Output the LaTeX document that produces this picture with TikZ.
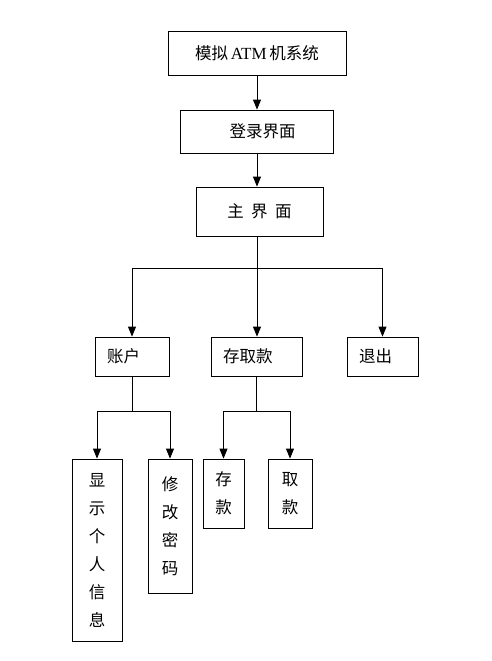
\documentclass[tikz,border=0pt]{standalone}
\usepackage{fontspec}
\setmainfont{Liberation Serif}
\newfontfamily\cjk{Noto Sans CJK SC}
\usetikzlibrary{arrows.meta}
\begin{document}
\begin{tikzpicture}[x=1pt,y=-1pt,
  every node/.style={font=\cjk\fontsize{16.5}{28}\selectfont},
  hbox/.style={draw,line width=0.8pt,inner sep=0pt,align=left},
  vbox/.style={draw,line width=0.8pt,inner sep=0pt,align=center},
  conn/.style={line width=0.8pt},
  arr/.style={line width=0.8pt,-{Triangle[length=10pt,width=8pt]}}]
\useasboundingbox (0,0) rectangle (491,661);
% top level
\node[hbox,minimum width=178,minimum height=44,align=center] (sys) at (257,53)
  {模拟\,{\rmfamily\fontsize{17}{18}\selectfont ATM}\,机系统};
\node[hbox,minimum width=153,minimum height=43,align=center] (login) at (256.5,131.5) {\hspace{12pt}登录界面};
\node[hbox,minimum width=127,minimum height=49,align=center] (main) at (259.5,211.5) {主\hspace{0.45em}界\hspace{0.45em}面};
% second level
\node[hbox,minimum width=74,minimum height=39,text width=50] (acc) at (132,356.5) {账户};
\node[hbox,minimum width=91,minimum height=39,text width=67] (cash) at (256.5,356.5) {存取款};
\node[hbox,minimum width=71,minimum height=39,text width=47] (quit) at (382.5,356.5) {退出};
% third level
\node[vbox,minimum width=50,minimum height=182] (info) at (97,550) {显\\示\\个\\人\\信\\息};
\node[vbox,minimum width=44,minimum height=134] (pwd) at (170,526) {修\\改\\密\\码};
\node[vbox,minimum width=41,minimum height=69] (dep) at (223.5,493.5) {存\\款};
\node[vbox,minimum width=44,minimum height=69] (wd) at (290,493.5) {取\\款};
% junctions
\coordinate (j1) at (257,268);
\coordinate (j2) at (132,411);
\coordinate (j3) at (256.5,411);
% connectors
\draw[arr] (sys.south) -- (login.north -| sys.south);
\draw[arr] (login.south -| sys.south) -- (main.north -| sys.south);
\draw[conn] (main.south -| j1) -- (j1);
\draw[arr] (j1) -| (acc.north);
\draw[arr] (j1) -- (j1 |- cash.north);
\draw[arr] (j1) -| (quit.north);
\draw[conn] (acc.south) -- (j2);
\draw[arr] (j2) -| (info.north);
\draw[arr] (j2) -| (pwd.north);
\draw[conn] (cash.south) -- (j3);
\draw[arr] (j3) -| (dep.north);
\draw[arr] (j3) -| (wd.north);
\end{tikzpicture}
\end{document}
